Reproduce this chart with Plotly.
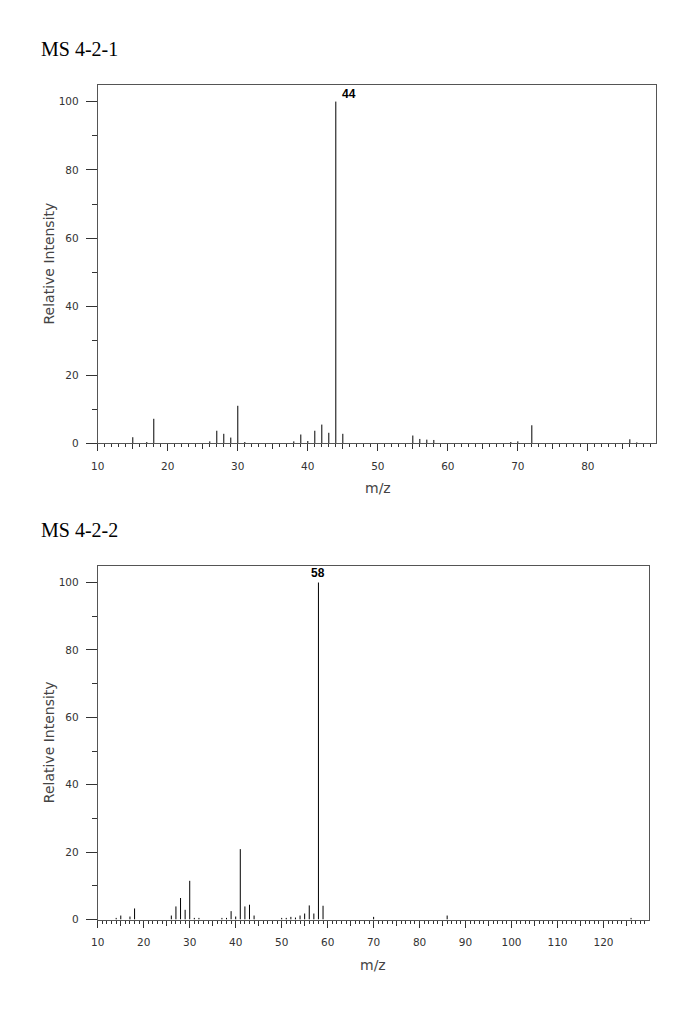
import plotly.graph_objects as go

# ---------------- data ----------------
titles = ["MS 4-2-1", "MS 4-2-2"]

mz_1 = [15, 17, 18, 26, 27, 28, 29, 30, 31, 38, 39, 40, 41, 42, 43, 44, 45,
        55, 56, 57, 58, 69, 70, 72, 86, 87]
int_1 = [1.8, 0.4, 7.2, 0.6, 3.7, 2.8, 1.7, 11.0, 0.4, 0.6, 2.6, 0.7, 3.7, 5.5, 3.1, 100.0, 2.8,
         2.3, 1.3, 1.1, 1.0, 0.4, 0.6, 5.3, 1.2, 0.3]

mz_2 = [14, 15, 17, 18, 26, 27, 28, 29, 30, 31, 32, 37, 38, 39, 40, 41, 42, 43, 44,
        50, 51, 52, 53, 54, 55, 56, 57, 58, 59, 70, 86, 126]
int_2 = [0.5, 1.2, 0.9, 3.3, 1.2, 3.9, 6.4, 2.9, 11.5, 0.5, 0.5, 0.5, 0.5, 2.5, 0.9, 20.9, 3.9, 4.4, 1.2,
         0.5, 0.5, 0.8, 0.6, 1.2, 1.8, 4.2, 1.8, 100.0, 4.1, 0.8, 1.2, 0.5]

x_range_1 = [10, 89.8]
x_range_2 = [10, 129.8]
y_range = [0, 105]
x_title = "m/z"
y_title = "Relative Intensity"

# ---------------- helpers ----------------
W, H = 700, 1024


def sticks(mz, inten):
    xs, ys = [], []
    for m, v in zip(mz, inten):
        xs += [m, m, None]
        ys += [0, v, None]
    return xs, ys


def px_x(p):
    return p / W


def px_y(p):
    return 1 - p / H


TICK_FONT = dict(family="DejaVu Sans", size=10.5, color="#333")
LINE_COL = "#555"

fig = go.Figure()

x1, y1 = sticks(mz_1, int_1)
x2, y2 = sticks(mz_2, int_2)
fig.add_trace(go.Scatter(x=x1, y=y1, mode="lines", line=dict(color="black", width=1),
                         xaxis="x", yaxis="y", showlegend=False, hoverinfo="skip"))
fig.add_trace(go.Scatter(x=x2, y=y2, mode="lines", line=dict(color="black", width=1),
                         xaxis="x2", yaxis="y2", showlegend=False, hoverinfo="skip"))
# empty traces so that the overlay tick axes are drawn
fig.add_trace(go.Scatter(x=[], y=[], xaxis="x3", yaxis="y", showlegend=False))
fig.add_trace(go.Scatter(x=[], y=[], xaxis="x4", yaxis="y2", showlegend=False))

dom_x1 = [px_x(91.7), px_x(656)]
dom_x2 = [px_x(91.7), px_x(648)]
dom_y1 = [px_y(446), px_y(85)]
dom_y2 = [px_y(925), px_y(569)]


def xaxis(rng, dom, anchor):
    return dict(range=rng, domain=dom, anchor=anchor, showgrid=False, zeroline=False,
                showline=True, linecolor=LINE_COL, linewidth=1, mirror=True,
                ticks="outside", tickmode="linear", tick0=0, dtick=10, ticklen=7,
                tickcolor="#333", tickfont=TICK_FONT, ticklabelstandoff=6,
                minor=dict(tickmode="linear", tick0=0, dtick=1, ticks="outside",
                           ticklen=3, tickcolor="#333"))


def xaxis_five(rng, dom, anchor, over):
    return dict(range=rng, domain=dom, anchor=anchor, overlaying=over, showgrid=False,
                zeroline=False, showline=False, ticks="outside", tickmode="linear",
                tick0=0, dtick=5, ticklen=5, tickcolor="#333", showticklabels=False)


def yaxis(dom, anchor):
    return dict(range=y_range, domain=dom, anchor=anchor, showgrid=False, zeroline=False,
                showline=True, linecolor=LINE_COL, linewidth=1, mirror=True,
                ticks="outside", tickmode="linear", tick0=0, dtick=20, ticklen=11,
                tickcolor="#333", tickfont=TICK_FONT, ticklabelstandoff=5,
                minor=dict(tickmode="linear", tick0=0, dtick=10, ticks="outside",
                           ticklen=5, tickcolor="#333"))


fig.update_layout(
    width=W, height=H, autosize=False,
    margin=dict(l=0, r=0, t=0, b=0),
    paper_bgcolor="white", plot_bgcolor="white",
    xaxis=xaxis(x_range_1, dom_x1, "y"),
    yaxis=yaxis(dom_y1, "x"),
    xaxis2=xaxis(x_range_2, dom_x2, "y2"),
    yaxis2=yaxis(dom_y2, "x2"),
    xaxis3=xaxis_five(x_range_1, dom_x1, "y", "x"),
    xaxis4=xaxis_five(x_range_2, dom_x2, "y2", "x2"),
)

annotations = []
# chart titles
for title, ypx in zip(titles, [49, 533]):
    annotations.append(dict(text=title, xref="paper", yref="paper", x=px_x(32), y=px_y(ypx),
                            xanchor="left", yanchor="middle", showarrow=False,
                            font=dict(family="Liberation Serif", size=20, color="black")))
# axis titles
for (ycen, xt_y, xcen) in [((85 + 446) / 2, 491, 375), ((569 + 925) / 2, 971, 370)]:
    annotations.append(dict(text=y_title, xref="paper", yref="paper", x=px_x(42), y=px_y(ycen),
                            xanchor="center", yanchor="middle", textangle=-90, showarrow=False,
                            font=dict(family="DejaVu Sans", size=14, color="#444")))
    annotations.append(dict(text=x_title, xref="paper", yref="paper", x=px_x(xcen),
                            y=px_y(xt_y), xanchor="center", yanchor="middle", showarrow=False,
                            font=dict(family="DejaVu Sans", size=14, color="#444")))

# base-peak labels
bp1 = mz_1[int_1.index(max(int_1))]
bp2 = mz_2[int_2.index(max(int_2))]
annotations.append(dict(text="<b>%d</b>" % bp1, xref="x", yref="y", x=bp1, y=max(int_1),
                        xanchor="left", yanchor="bottom", xshift=4, yshift=-1, showarrow=False,
                        font=dict(family="Liberation Sans", size=12, color="black")))
annotations.append(dict(text="<b>%d</b>" % bp2, xref="x2", yref="y2", x=bp2, y=max(int_2),
                        xanchor="center", yanchor="bottom", yshift=1, showarrow=False,
                        font=dict(family="Liberation Sans", size=12, color="black")))

fig.update_layout(annotations=annotations)

fig.write_html("out.html")
